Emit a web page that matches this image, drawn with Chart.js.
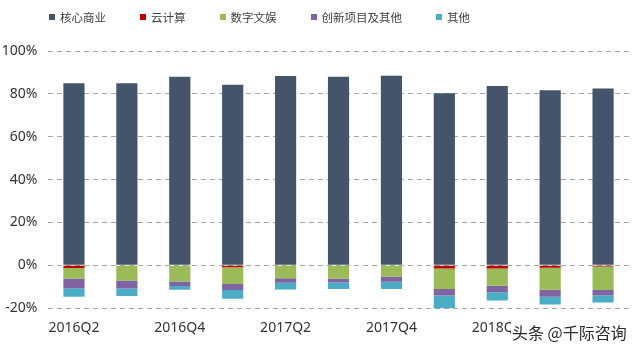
<!DOCTYPE html>
<html>
<head>
<meta charset="utf-8">
<script src="https://cdn.jsdelivr.net/npm/chart.js@4"></script>
<style>
html,body{margin:0;padding:0;background:#fff;}
#wrap{position:relative;width:640px;height:351px;font-family:'Noto Sans','Noto Sans CJK SC',sans-serif;}
#lg{position:absolute;left:49px;top:9px;display:flex;gap:34px;font-size:11.5px;color:#404040;line-height:16px;font-family:'Noto Sans CJK SC',sans-serif;}
#lg span.it{display:flex;align-items:center;}
#lg i{display:inline-block;width:6px;height:6px;margin-right:5px;}
#wm{position:absolute;left:511px;top:321px;font-size:16px;color:#2a2a2a;background:#fff;padding:0 10px 0 1px;font-family:'Noto Sans CJK SC',sans-serif;line-height:22px;}
</style>
</head>
<body>
<div id="wrap">
<canvas id="c" width="640" height="351"></canvas>
<div id="lg"></div>
<div id="wm">头条 @千际咨询</div>
</div>
<script>
// 季度
const quarters=['2016Q2','2016Q3','2016Q4','2017Q1','2017Q2','2017Q3','2017Q4','2018Q1','2018Q2','2018Q3','2018Q4'];
// 各业务占比 (%)
const core=[85,85,88,84.3,88.3,88,88.5,80.3,83.7,81.7,82.5];
const cloud=[-1.2,-0.2,-0.2,-0.9,-0.2,-0.2,-0.2,-1.5,-1.5,-1.1,-0.6];
const media=[-4.9,-6.9,-7.4,-7.8,-5.8,-6.0,-5.0,-9.5,-8.0,-10.3,-10.9];
const innov=[-4.6,-3.7,-2.0,-2.8,-2.1,-1.8,-2.5,-3.1,-3.1,-3.2,-2.6];
const other=[-4.0,-3.5,-1.8,-4.1,-3.2,-3.1,-3.4,-6.1,-3.8,-3.7,-3.2];
const yTicks=[-20,0,20,40,60,80,100];

const series=[
  {label:'核心商业',data:core,color:'#44546A'},
  {label:'云计算',data:cloud,color:'#C00000'},
  {label:'数字文娱',data:media,color:'#9BBB59'},
  {label:'创新项目及其他',data:innov,color:'#8064A2'},
  {label:'其他',data:other,color:'#4BACC6'}
];

const lg=document.getElementById('lg');
series.forEach(s=>{
  lg.innerHTML+=`<span class="it"><i style="background:${s.color}"></i>${s.label}</span>`;
});

new Chart(document.getElementById('c'),{type:'bar',
  data:{labels:quarters,
    datasets:series.map(s=>({label:s.label,data:s.data,backgroundColor:s.color,borderWidth:0,barPercentage:0.4,categoryPercentage:1}))},
  options:{responsive:false,animation:false,
    layout:{padding:{top:51,right:9.5,bottom:4,left:0}},
    plugins:{legend:{display:false},tooltip:{enabled:false}},
    scales:{
      x:{stacked:true,grid:{display:false,drawTicks:false},border:{display:false},
        ticks:{autoSkip:false,maxRotation:0,padding:11,color:'#333',font:{size:14,family:"'Noto Sans',sans-serif"},
          callback:(v,i)=>i%2===0?quarters[i]:''}},
      y:{stacked:true,min:yTicks[0],max:yTicks[yTicks.length-1],
        afterFit:a=>{a.width=47.5;},
        afterBuildTicks:a=>{a.ticks=yTicks.map(v=>({value:v}));},
        grid:{color:'#a6a6a6',drawTicks:false},border:{display:false,dash:[5,4]},
        ticks:{padding:10,color:'#333',font:{size:14,family:"'Noto Sans',sans-serif"},callback:v=>v+'%'}}
    }
  }
});
</script>
</body>
</html>
